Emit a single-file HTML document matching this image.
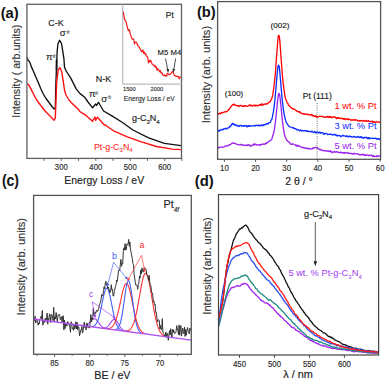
<!DOCTYPE html>
<html><head><meta charset="utf-8"><style>
html,body{margin:0;padding:0;background:#fff;}
svg{display:block;}
text{font-family:"Liberation Sans", sans-serif;}
</style></head><body>
<svg width="386" height="381" viewBox="0 0 386 381">
<rect width="386" height="381" fill="#fff"/>
<path d="M27.40,57.40 L27.80,60.00 L29.20,61.20 L30.30,63.50 L31.30,66.60 L33.50,71.50 L35.50,76.30 L38.50,83.00 L40.70,88.50 L43.00,93.50 L46.00,98.50 L49.00,102.50 L52.00,106.50 L54.10,109.00 L55.30,108.00 L55.90,82.00 L56.40,70.00 L56.80,60.00 L57.20,50.70 L58.00,43.50 L59.60,40.30 L61.50,43.50 L62.70,50.70 L63.90,58.60 L64.50,67.00 L66.10,71.00 L70.80,78.10 L76.30,89.10 L80.00,93.60 L84.80,97.30 L88.00,102.00 L92.60,107.80 L94.00,106.00 L95.70,103.90 L96.50,105.50 L98.60,102.30 L100.00,105.00 L103.60,111.00 L111.50,115.70 L122.50,122.50 L132.90,130.00 L148.60,137.80 L164.40,143.30 L181.00,145.70" fill="none" stroke="#111" stroke-width="1.35" stroke-linejoin="round" />
<line x1="56.6" y1="59.5" x2="56.6" y2="70.5" stroke="#111" stroke-width="1.8"/>
<path d="M27.20,83.70 L28.50,84.60 L29.50,86.20 L31.30,89.60 L33.50,94.00 L36.00,98.90 L40.00,104.50 L45.50,111.50 L50.00,116.00 L54.10,120.20 L55.30,118.00 L56.70,82.00 L58.20,70.20 L59.80,67.50 L61.80,71.80 L63.00,79.70 L64.50,90.00 L66.00,95.00 L69.00,100.00 L72.20,103.60 L78.00,109.00 L80.00,111.70 L86.30,115.70 L92.60,121.20 L95.00,117.00 L95.70,120.40 L97.30,117.20 L99.00,119.00 L103.60,124.30 L106.00,125.50 L114.20,131.20 L126.70,136.70 L140.70,141.70 L156.50,146.50 L172.20,149.10 L181.00,149.60" fill="none" stroke="#ff1010" stroke-width="1.4" stroke-linejoin="round" />
<rect x="26.9" y="4.3" width="154.6" height="154.1" fill="none" stroke="#606060" stroke-width="1.3"/>
<line x1="44.065" y1="158.4" x2="44.065" y2="160.9" stroke="#666" stroke-width="1"/>
<line x1="61.3" y1="158.4" x2="61.3" y2="160.9" stroke="#666" stroke-width="1"/>
<line x1="78.535" y1="158.4" x2="78.535" y2="160.9" stroke="#666" stroke-width="1"/>
<line x1="95.77" y1="158.4" x2="95.77" y2="160.9" stroke="#666" stroke-width="1"/>
<line x1="113.005" y1="158.4" x2="113.005" y2="160.9" stroke="#666" stroke-width="1"/>
<line x1="130.24" y1="158.4" x2="130.24" y2="160.9" stroke="#666" stroke-width="1"/>
<line x1="147.475" y1="158.4" x2="147.475" y2="160.9" stroke="#666" stroke-width="1"/>
<line x1="164.70999999999998" y1="158.4" x2="164.70999999999998" y2="160.9" stroke="#666" stroke-width="1"/>
<line x1="181.945" y1="158.4" x2="181.945" y2="160.9" stroke="#666" stroke-width="1"/>
<text transform="translate(61.3,170.2) scale(0.92,1)" font-size="8.4" fill="#2a2a2a" text-anchor="middle"  stroke="#2a2a2a" stroke-width="0.15">300</text>
<text transform="translate(95.77,170.2) scale(0.92,1)" font-size="8.4" fill="#2a2a2a" text-anchor="middle"  stroke="#2a2a2a" stroke-width="0.15">400</text>
<text transform="translate(130.24,170.2) scale(0.92,1)" font-size="8.4" fill="#2a2a2a" text-anchor="middle"  stroke="#2a2a2a" stroke-width="0.15">500</text>
<text transform="translate(164.71,170.2) scale(0.92,1)" font-size="8.4" fill="#2a2a2a" text-anchor="middle"  stroke="#2a2a2a" stroke-width="0.15">600</text>
<text x="104.2" y="183.7" font-size="10.5" fill="#222" text-anchor="middle"  stroke="#222" stroke-width="0.15">Energy Loss / eV</text>
<text transform="translate(20,71.2) rotate(-90)" x="0" y="0" font-size="10.6" fill="#333" text-anchor="middle" stroke="#333" stroke-width="0.15">Intensity ( arb.units)</text>
<text transform="translate(0.7,18.0) scale(0.97,1)" font-size="15.2" fill="#111" font-weight="bold">(a)</text>
<text x="56.0" y="26.3" font-size="8.9" fill="#222" text-anchor="middle"  stroke="#222" stroke-width="0.15">C-K</text>
<text x="59.8" y="35.7" font-size="9.5" fill="#222" text-anchor="start"  stroke="#222" stroke-width="0.15">σ</text>
<text x="66.0" y="38.3" font-size="10" fill="#8f8f8f" text-anchor="start" font-weight="bold">*</text>
<text x="46.0" y="60.2" font-size="9.5" fill="#222" text-anchor="start"  stroke="#222" stroke-width="0.15">π</text>
<text x="51.9" y="62.3" font-size="10" fill="#8f8f8f" text-anchor="start" font-weight="bold">*</text>
<text x="103.4" y="82.1" font-size="9.0" fill="#222" text-anchor="middle"  stroke="#222" stroke-width="0.15">N-K</text>
<text x="88.9" y="96.8" font-size="9.5" fill="#222" text-anchor="start"  stroke="#222" stroke-width="0.15">π</text>
<text x="94.6" y="99.3" font-size="10" fill="#8f8f8f" text-anchor="start" font-weight="bold">*</text>
<text x="101.2" y="101.6" font-size="9.5" fill="#222" text-anchor="start"  stroke="#222" stroke-width="0.15">σ</text>
<text x="107.4" y="103.4" font-size="10" fill="#8f8f8f" text-anchor="start" font-weight="bold">*</text>
<text x="132.0" y="121.3" font-size="9.0" fill="#222" stroke="#222" stroke-width="0.15">g-C<tspan font-size="6" dy="2.4">3</tspan><tspan dy="-2.4">N</tspan><tspan font-size="6" dy="2.4">4</tspan></text>
<text x="93.9" y="149.7" font-size="8.9" fill="#ff1010">Pt-g-C<tspan font-size="6" dy="2.4">3</tspan><tspan dy="-2.4">N</tspan><tspan font-size="6" dy="2.4">4</tspan></text>
<line x1="122.7" y1="4.3" x2="122.7" y2="84.1" stroke="#bbb" stroke-width="1.2"/>
<line x1="122.7" y1="84.1" x2="181.5" y2="84.1" stroke="#bbb" stroke-width="1.2"/>
<path d="M123.30,11.73 L124.00,16.16 L124.70,19.88 L125.40,20.57 L126.10,21.55 L126.80,24.89 L127.50,27.73 L128.20,30.59 L128.90,29.66 L129.60,30.50 L130.30,34.23 L131.00,35.87 L131.70,38.33 L132.40,39.09 L133.10,38.87 L133.80,39.55 L134.50,44.03 L135.20,42.21 L135.90,42.01 L136.60,42.31 L137.30,44.61 L138.00,45.89 L138.70,46.29 L139.40,47.41 L140.10,48.74 L140.80,50.21 L141.50,51.70 L142.20,51.64 L142.90,49.93 L143.60,53.29 L144.30,52.12 L145.00,54.09 L145.70,53.63 L146.40,56.00 L147.10,56.23 L147.80,58.17 L148.50,62.95 L149.20,60.59 L149.90,61.88 L150.60,60.24 L151.30,61.85 L152.00,64.00 L152.70,64.23 L153.40,65.42 L154.10,65.82 L154.80,65.07 L155.50,67.32 L156.20,66.62 L156.90,70.21 L157.60,68.57 L158.30,70.16 L159.00,70.16 L159.70,71.79 L160.40,70.74 L161.10,72.95 L161.80,72.53 L162.50,74.74 L163.20,75.33 L163.90,75.72 L164.60,74.76 L165.30,76.06 L166.00,75.71 L166.70,76.15 L167.40,73.05 L168.10,73.87 L168.80,74.53 L169.50,74.60 L170.20,74.13 L170.90,73.75 L171.60,72.48 L172.30,71.47 L173.00,71.75 L173.70,73.60 L174.40,75.50 L175.10,75.67 L175.80,76.22 L176.50,76.30 L177.20,76.50 L177.90,76.21 L178.60,77.15 L179.30,78.83 L180.00,76.97 L180.70,76.50" fill="none" stroke="#f01818" stroke-width="1.2" stroke-linejoin="round" />
<text x="129.3" y="90.9" font-size="5.7" fill="#333" text-anchor="middle"  stroke="#333" stroke-width="0.15">1500</text>
<text x="156.9" y="90.9" font-size="5.7" fill="#333" text-anchor="middle"  stroke="#333" stroke-width="0.15">2000</text>
<text x="149.3" y="101.3" font-size="6.7" fill="#333" text-anchor="middle"  stroke="#333" stroke-width="0.15">Energy Loss / eV</text>
<text x="165.8" y="17.7" font-size="8.4" fill="#222" text-anchor="start"  stroke="#222" stroke-width="0.15">Pt</text>
<text x="157.6" y="55" font-size="7.7" fill="#222" text-anchor="start"  stroke="#222" stroke-width="0.15">M5</text>
<text x="170.5" y="55" font-size="7.7" fill="#222" text-anchor="start"  stroke="#222" stroke-width="0.15">M4</text>
<line x1="165.5" y1="58.4" x2="167.8" y2="70" stroke="#222" stroke-width="0.8"/>
<line x1="175.7" y1="58.4" x2="173.7" y2="70" stroke="#222" stroke-width="0.8"/>
<path d="M166.3,69.5 L168.3,72.7 L169.2,69 Z" fill="#222"/>
<path d="M172.3,69 L173.5,72.4 L175.1,69.3 Z" fill="#222"/>
<path d="M217.90,114.20 L218.40,114.30 L218.90,113.48 L219.40,113.17 L219.90,113.43 L220.40,113.84 L220.90,113.36 L221.40,112.60 L221.90,112.47 L222.40,112.58 L222.90,112.84 L223.40,112.45 L223.90,112.13 L224.40,112.00 L224.90,112.00 L225.40,111.57 L225.90,111.63 L226.40,111.62 L226.90,111.76 L227.40,110.85 L227.90,110.68 L228.40,109.62 L228.90,109.73 L229.40,108.93 L229.90,107.93 L230.40,107.33 L230.90,106.95 L231.40,105.87 L231.90,105.54 L232.40,105.06 L232.90,104.60 L233.40,104.83 L233.90,104.05 L234.40,104.61 L234.90,104.54 L235.40,105.26 L235.90,105.27 L236.40,105.49 L236.90,105.78 L237.40,105.64 L237.90,105.86 L238.40,105.63 L238.90,106.56 L239.40,105.87 L239.90,105.91 L240.40,105.31 L240.90,105.30 L241.40,105.53 L241.90,106.14 L242.40,106.27 L242.90,106.13 L243.40,105.79 L243.90,106.59 L244.40,105.77 L244.90,105.67 L245.40,106.12 L245.90,105.70 L246.40,106.06 L246.90,106.38 L247.40,106.06 L247.90,106.14 L248.40,106.00 L248.90,105.70 L249.40,104.75 L249.90,105.21 L250.40,105.70 L250.90,105.20 L251.40,105.45 L251.90,105.74 L252.40,106.16 L252.90,105.28 L253.40,105.36 L253.90,105.61 L254.40,105.73 L254.90,105.06 L255.40,106.01 L255.90,105.24 L256.40,105.71 L256.90,105.32 L257.40,105.41 L257.90,105.83 L258.40,105.54 L258.90,105.23 L259.40,104.73 L259.90,104.70 L260.40,104.38 L260.90,105.46 L261.40,104.38 L261.90,103.74 L262.40,105.02 L262.90,105.08 L263.40,104.45 L263.90,104.66 L264.40,104.04 L264.90,103.91 L265.40,104.16 L265.90,104.06 L266.40,103.63 L266.90,104.13 L267.40,103.76 L267.90,103.30 L268.40,102.53 L268.90,102.57 L269.40,102.09 L269.90,101.66 L270.40,101.34 L270.90,100.09 L271.40,99.21 L271.90,98.02 L272.40,96.09 L272.90,94.43 L273.40,90.26 L273.90,87.05 L274.40,82.47 L274.90,77.83 L275.40,73.11 L275.90,65.52 L276.40,58.98 L276.90,52.38 L277.40,45.50 L277.90,40.02 L278.40,35.45 L278.90,35.31 L279.40,37.01 L279.90,41.63 L280.40,48.60 L280.90,55.74 L281.40,62.39 L281.90,68.97 L282.40,75.27 L282.90,80.81 L283.40,85.48 L283.90,89.16 L284.40,92.05 L284.90,96.04 L285.40,98.14 L285.90,99.43 L286.40,100.64 L286.90,102.05 L287.40,103.11 L287.90,103.28 L288.40,105.07 L288.90,105.54 L289.40,105.77 L289.90,106.42 L290.40,106.85 L290.90,107.55 L291.40,107.68 L291.90,108.38 L292.40,108.91 L292.90,108.64 L293.40,108.79 L293.90,108.92 L294.40,109.42 L294.90,109.58 L295.40,110.11 L295.90,110.55 L296.40,110.95 L296.90,110.66 L297.40,111.61 L297.90,111.53 L298.40,111.80 L298.90,111.93 L299.40,111.65 L299.90,112.59 L300.40,112.17 L300.90,113.19 L301.40,113.11 L301.90,113.72 L302.40,113.62 L302.90,113.71 L303.40,114.07 L303.90,113.73 L304.40,114.30 L304.90,113.92 L305.40,114.07 L305.90,113.86 L306.40,114.34 L306.90,114.56 L307.40,114.28 L307.90,114.04 L308.40,114.52 L308.90,114.86 L309.40,114.81 L309.90,114.60 L310.40,114.73 L310.90,115.00 L311.40,114.31 L311.90,114.97 L312.40,115.89 L312.90,115.21 L313.40,115.53 L313.90,116.34 L314.40,116.24 L314.90,116.38 L315.40,116.12 L315.90,115.73 L316.40,117.21 L316.90,116.68 L317.40,116.58 L317.90,117.07 L318.40,116.90 L318.90,116.63 L319.40,116.19 L319.90,116.45 L320.40,116.53 L320.90,116.38 L321.40,116.31 L321.90,116.27 L322.40,116.59 L322.90,116.51 L323.40,116.87 L323.90,117.18 L324.40,117.01 L324.90,116.90 L325.40,117.44 L325.90,117.25 L326.40,116.49 L326.90,116.62 L327.40,116.99 L327.90,116.71 L328.40,117.25 L328.90,116.50 L329.40,116.31 L329.90,117.34 L330.40,117.45 L330.90,116.75 L331.40,117.24 L331.90,117.83 L332.40,117.13 L332.90,117.01 L333.40,117.02 L333.90,117.15 L334.40,116.96 L334.90,117.40 L335.40,117.20 L335.90,117.73 L336.40,118.64 L336.90,117.72 L337.40,118.27 L337.90,118.51 L338.40,117.38 L338.90,118.05 L339.40,118.19 L339.90,118.15 L340.40,118.58 L340.90,118.28 L341.40,118.54 L341.90,118.37 L342.40,118.47 L342.90,118.31 L343.40,119.39 L343.90,118.84 L344.40,118.40 L344.90,119.43 L345.40,119.55 L345.90,119.00 L346.40,118.77 L346.90,118.74 L347.40,119.47 L347.90,119.11 L348.40,118.95 L348.90,119.51 L349.40,119.27 L349.90,119.34 L350.40,120.10 L350.90,119.92 L351.40,120.06 L351.90,119.84 L352.40,120.14 L352.90,119.73 L353.40,120.09 L353.90,120.23 L354.40,119.78 L354.90,119.43 L355.40,120.04 L355.90,119.97 L356.40,120.25 L356.90,119.92 L357.40,120.30 L357.90,120.56 L358.40,121.15 L358.90,121.10 L359.40,120.64 L359.90,120.96 L360.40,120.34 L360.90,120.89 L361.40,120.67 L361.90,121.09 L362.40,120.86 L362.90,120.66 L363.40,120.49 L363.90,121.19 L364.40,120.95 L364.90,121.17 L365.40,121.17 L365.90,120.33 L366.40,121.13 L366.90,120.98 L367.40,121.26 L367.90,121.39 L368.40,120.66 L368.90,121.07 L369.40,121.28 L369.90,121.52 L370.40,121.81 L370.90,121.33 L371.40,121.44 L371.90,121.80 L372.40,121.05 L372.90,122.23 L373.40,121.53 L373.90,122.22 L374.40,121.99 L374.90,122.59 L375.40,122.46 L375.90,122.09 L376.40,121.48 L376.90,122.03 L377.40,122.25 L377.90,122.41 L378.40,121.85 L378.90,121.93 L379.40,122.01 L379.90,122.43 L380.40,122.16" fill="none" stroke="#ff0000" stroke-width="1.3" stroke-linejoin="round" />
<path d="M217.90,130.62 L218.40,130.34 L218.90,131.52 L219.40,130.61 L219.90,130.24 L220.40,130.19 L220.90,129.76 L221.40,129.52 L221.90,129.87 L222.40,129.50 L222.90,129.82 L223.40,129.44 L223.90,128.71 L224.40,128.67 L224.90,128.76 L225.40,128.29 L225.90,128.83 L226.40,128.79 L226.90,128.99 L227.40,128.12 L227.90,127.93 L228.40,127.95 L228.90,127.78 L229.40,126.68 L229.90,126.98 L230.40,125.83 L230.90,125.86 L231.40,124.90 L231.90,124.26 L232.40,123.41 L232.90,123.39 L233.40,124.62 L233.90,123.93 L234.40,124.78 L234.90,125.06 L235.40,124.67 L235.90,125.33 L236.40,125.75 L236.90,125.39 L237.40,125.42 L237.90,126.05 L238.40,125.90 L238.90,126.54 L239.40,126.05 L239.90,125.39 L240.40,125.67 L240.90,125.32 L241.40,125.98 L241.90,126.11 L242.40,125.74 L242.90,125.50 L243.40,126.12 L243.90,125.79 L244.40,126.33 L244.90,125.63 L245.40,125.77 L245.90,125.70 L246.40,125.52 L246.90,126.88 L247.40,126.77 L247.90,125.88 L248.40,126.23 L248.90,125.33 L249.40,126.27 L249.90,126.39 L250.40,125.88 L250.90,125.76 L251.40,125.95 L251.90,126.06 L252.40,125.77 L252.90,125.52 L253.40,125.67 L253.90,125.63 L254.40,126.06 L254.90,125.87 L255.40,125.88 L255.90,125.16 L256.40,125.47 L256.90,125.52 L257.40,125.46 L257.90,125.58 L258.40,125.51 L258.90,125.02 L259.40,125.81 L259.90,125.93 L260.40,125.40 L260.90,125.68 L261.40,125.13 L261.90,124.86 L262.40,125.16 L262.90,125.82 L263.40,125.26 L263.90,124.53 L264.40,124.94 L264.90,124.63 L265.40,124.40 L265.90,124.64 L266.40,123.78 L266.90,123.45 L267.40,123.34 L267.90,124.08 L268.40,123.64 L268.90,123.03 L269.40,122.56 L269.90,122.55 L270.40,122.19 L270.90,120.67 L271.40,119.80 L271.90,119.22 L272.40,116.95 L272.90,114.28 L273.40,111.69 L273.90,108.32 L274.40,104.58 L274.90,99.96 L275.40,94.49 L275.90,88.91 L276.40,83.17 L276.90,76.82 L277.40,71.47 L277.90,66.75 L278.40,65.13 L278.90,65.67 L279.40,67.74 L279.90,73.03 L280.40,78.71 L280.90,84.78 L281.40,90.64 L281.90,96.39 L282.40,101.76 L282.90,105.45 L283.40,109.97 L283.90,112.87 L284.40,115.16 L284.90,117.64 L285.40,119.81 L285.90,121.13 L286.40,122.47 L286.90,123.26 L287.40,123.98 L287.90,125.22 L288.40,125.23 L288.90,126.36 L289.40,126.72 L289.90,126.79 L290.40,127.01 L290.90,127.22 L291.40,127.53 L291.90,127.75 L292.40,127.92 L292.90,127.44 L293.40,127.42 L293.90,128.46 L294.40,128.44 L294.90,128.59 L295.40,128.89 L295.90,128.73 L296.40,129.79 L296.90,129.56 L297.40,129.56 L297.90,129.35 L298.40,130.13 L298.90,130.34 L299.40,130.77 L299.90,130.74 L300.40,130.17 L300.90,129.95 L301.40,130.93 L301.90,130.43 L302.40,130.60 L302.90,130.67 L303.40,130.98 L303.90,131.11 L304.40,130.61 L304.90,130.71 L305.40,130.38 L305.90,131.20 L306.40,131.16 L306.90,130.64 L307.40,131.58 L307.90,131.45 L308.40,131.10 L308.90,131.29 L309.40,131.32 L309.90,131.62 L310.40,131.77 L310.90,131.56 L311.40,131.93 L311.90,130.95 L312.40,131.63 L312.90,132.17 L313.40,132.43 L313.90,132.48 L314.40,131.86 L314.90,131.55 L315.40,132.03 L315.90,133.12 L316.40,132.65 L316.90,132.24 L317.40,131.87 L317.90,132.52 L318.40,132.49 L318.90,132.88 L319.40,132.91 L319.90,132.05 L320.40,132.74 L320.90,133.26 L321.40,132.92 L321.90,132.69 L322.40,132.72 L322.90,132.72 L323.40,134.05 L323.90,134.09 L324.40,133.42 L324.90,134.06 L325.40,133.36 L325.90,133.47 L326.40,133.47 L326.90,133.73 L327.40,134.14 L327.90,134.77 L328.40,134.49 L328.90,134.18 L329.40,134.27 L329.90,134.21 L330.40,134.46 L330.90,134.12 L331.40,134.51 L331.90,134.72 L332.40,135.00 L332.90,134.47 L333.40,134.87 L333.90,134.95 L334.40,134.63 L334.90,134.20 L335.40,134.68 L335.90,135.35 L336.40,135.12 L336.90,136.05 L337.40,135.67 L337.90,135.19 L338.40,135.37 L338.90,135.66 L339.40,135.78 L339.90,135.57 L340.40,135.82 L340.90,136.80 L341.40,136.30 L341.90,135.96 L342.40,135.70 L342.90,135.21 L343.40,135.86 L343.90,135.81 L344.40,135.97 L344.90,135.85 L345.40,136.34 L345.90,136.58 L346.40,136.03 L346.90,135.71 L347.40,136.29 L347.90,136.82 L348.40,136.62 L348.90,136.64 L349.40,136.00 L349.90,136.21 L350.40,136.70 L350.90,136.75 L351.40,136.66 L351.90,136.89 L352.40,137.07 L352.90,136.87 L353.40,136.57 L353.90,136.30 L354.40,136.86 L354.90,136.87 L355.40,136.91 L355.90,137.41 L356.40,136.91 L356.90,136.99 L357.40,137.37 L357.90,136.93 L358.40,136.42 L358.90,136.93 L359.40,137.55 L359.90,137.21 L360.40,137.30 L360.90,136.78 L361.40,137.80 L361.90,136.99 L362.40,137.25 L362.90,137.51 L363.40,138.35 L363.90,137.90 L364.40,137.55 L364.90,137.24 L365.40,137.63 L365.90,137.42 L366.40,137.63 L366.90,137.95 L367.40,138.46 L367.90,137.77 L368.40,138.55 L368.90,137.56 L369.40,138.78 L369.90,138.14 L370.40,138.14 L370.90,138.14 L371.40,138.43 L371.90,138.42 L372.40,138.35 L372.90,138.24 L373.40,138.31 L373.90,138.58 L374.40,138.45 L374.90,138.41 L375.40,138.16 L375.90,138.67 L376.40,138.98 L376.90,138.53 L377.40,139.20 L377.90,139.00 L378.40,139.04 L378.90,138.44 L379.40,139.19 L379.90,139.60 L380.40,139.96" fill="none" stroke="#0a2aff" stroke-width="1.3" stroke-linejoin="round" />
<path d="M217.90,148.61 L218.40,147.52 L218.90,147.73 L219.40,147.49 L219.90,147.15 L220.40,147.11 L220.90,147.05 L221.40,147.11 L221.90,147.22 L222.40,147.38 L222.90,147.05 L223.40,147.22 L223.90,146.95 L224.40,146.69 L224.90,146.45 L225.40,146.06 L225.90,145.70 L226.40,146.07 L226.90,145.99 L227.40,146.01 L227.90,145.89 L228.40,145.18 L228.90,145.10 L229.40,144.70 L229.90,145.11 L230.40,144.55 L230.90,144.28 L231.40,143.63 L231.90,143.12 L232.40,143.02 L232.90,143.01 L233.40,143.38 L233.90,142.88 L234.40,143.53 L234.90,143.35 L235.40,143.54 L235.90,143.76 L236.40,143.87 L236.90,144.32 L237.40,144.66 L237.90,144.59 L238.40,144.32 L238.90,144.65 L239.40,144.76 L239.90,145.00 L240.40,144.89 L240.90,144.27 L241.40,144.49 L241.90,144.72 L242.40,145.27 L242.90,145.07 L243.40,145.44 L243.90,145.35 L244.40,144.87 L244.90,145.25 L245.40,145.56 L245.90,145.62 L246.40,145.02 L246.90,145.62 L247.40,145.35 L247.90,144.73 L248.40,145.11 L248.90,144.66 L249.40,144.78 L249.90,145.71 L250.40,146.22 L250.90,145.80 L251.40,145.46 L251.90,145.86 L252.40,145.37 L252.90,144.77 L253.40,144.11 L253.90,145.10 L254.40,144.19 L254.90,143.78 L255.40,144.45 L255.90,144.82 L256.40,144.55 L256.90,145.14 L257.40,144.85 L257.90,144.87 L258.40,144.94 L258.90,144.57 L259.40,144.75 L259.90,145.50 L260.40,144.48 L260.90,144.63 L261.40,144.76 L261.90,144.38 L262.40,144.44 L262.90,143.83 L263.40,144.02 L263.90,144.08 L264.40,144.32 L264.90,144.17 L265.40,143.45 L265.90,142.96 L266.40,143.72 L266.90,143.37 L267.40,142.12 L267.90,142.22 L268.40,141.81 L268.90,141.58 L269.40,140.84 L269.90,140.79 L270.40,140.42 L270.90,140.01 L271.40,139.79 L271.90,138.71 L272.40,137.01 L272.90,135.23 L273.40,133.72 L273.90,132.06 L274.40,129.31 L274.90,125.47 L275.40,122.14 L275.90,117.66 L276.40,112.53 L276.90,107.82 L277.40,102.70 L277.90,97.79 L278.40,94.55 L278.90,93.24 L279.40,94.39 L279.90,96.42 L280.40,100.91 L280.90,105.79 L281.40,110.83 L281.90,115.30 L282.40,120.62 L282.90,124.85 L283.40,128.55 L283.90,131.21 L284.40,134.03 L284.90,135.83 L285.40,137.64 L285.90,138.55 L286.40,139.73 L286.90,140.39 L287.40,140.75 L287.90,141.43 L288.40,141.64 L288.90,141.94 L289.40,142.48 L289.90,142.72 L290.40,143.91 L290.90,144.23 L291.40,144.21 L291.90,144.27 L292.40,143.84 L292.90,144.30 L293.40,143.93 L293.90,144.27 L294.40,144.52 L294.90,144.74 L295.40,145.34 L295.90,144.99 L296.40,146.17 L296.90,145.49 L297.40,145.95 L297.90,145.29 L298.40,146.15 L298.90,145.67 L299.40,146.19 L299.90,146.32 L300.40,146.80 L300.90,146.98 L301.40,147.09 L301.90,147.08 L302.40,147.98 L302.90,147.45 L303.40,147.67 L303.90,147.69 L304.40,148.06 L304.90,147.87 L305.40,148.01 L305.90,148.39 L306.40,148.10 L306.90,148.43 L307.40,148.14 L307.90,148.81 L308.40,148.41 L308.90,149.02 L309.40,148.71 L309.90,148.44 L310.40,148.79 L310.90,148.95 L311.40,149.13 L311.90,149.13 L312.40,148.81 L312.90,147.86 L313.40,148.27 L313.90,147.85 L314.40,147.80 L314.90,147.95 L315.40,147.13 L315.90,147.55 L316.40,147.86 L316.90,147.48 L317.40,147.46 L317.90,148.38 L318.40,148.46 L318.90,149.10 L319.40,149.62 L319.90,149.07 L320.40,149.93 L320.90,149.77 L321.40,150.07 L321.90,150.63 L322.40,150.15 L322.90,150.27 L323.40,150.43 L323.90,150.79 L324.40,150.91 L324.90,151.02 L325.40,150.75 L325.90,150.66 L326.40,151.10 L326.90,150.78 L327.40,150.78 L327.90,151.36 L328.40,151.00 L328.90,150.93 L329.40,151.68 L329.90,151.46 L330.40,150.69 L330.90,151.11 L331.40,152.19 L331.90,152.77 L332.40,151.82 L332.90,152.03 L333.40,152.13 L333.90,152.05 L334.40,151.32 L334.90,152.21 L335.40,152.17 L335.90,152.02 L336.40,151.53 L336.90,151.82 L337.40,152.10 L337.90,152.15 L338.40,152.36 L338.90,152.22 L339.40,152.72 L339.90,152.73 L340.40,152.14 L340.90,152.25 L341.40,152.67 L341.90,152.45 L342.40,153.13 L342.90,152.62 L343.40,152.83 L343.90,153.04 L344.40,152.50 L344.90,153.28 L345.40,152.95 L345.90,152.75 L346.40,152.75 L346.90,152.43 L347.40,152.52 L347.90,153.59 L348.40,153.26 L348.90,153.18 L349.40,153.37 L349.90,153.58 L350.40,153.18 L350.90,153.34 L351.40,153.58 L351.90,153.92 L352.40,153.76 L352.90,154.26 L353.40,153.74 L353.90,153.63 L354.40,153.28 L354.90,153.73 L355.40,154.11 L355.90,153.92 L356.40,153.95 L356.90,153.72 L357.40,153.85 L357.90,153.98 L358.40,154.17 L358.90,154.67 L359.40,154.61 L359.90,154.79 L360.40,154.96 L360.90,154.46 L361.40,155.04 L361.90,154.75 L362.40,154.26 L362.90,154.45 L363.40,154.72 L363.90,154.31 L364.40,155.63 L364.90,155.11 L365.40,155.37 L365.90,154.74 L366.40,155.12 L366.90,155.29 L367.40,155.01 L367.90,155.36 L368.40,155.39 L368.90,155.57 L369.40,155.09 L369.90,155.65 L370.40,155.52 L370.90,155.34 L371.40,154.88 L371.90,155.54 L372.40,155.65 L372.90,156.69 L373.40,155.68 L373.90,156.47 L374.40,156.59 L374.90,156.37 L375.40,156.31 L375.90,156.43 L376.40,155.80 L376.90,156.74 L377.40,156.36 L377.90,156.18 L378.40,156.45 L378.90,155.59 L379.40,155.96 L379.90,156.13 L380.40,156.07" fill="none" stroke="#9a22ee" stroke-width="1.3" stroke-linejoin="round" />
<rect x="217.6" y="1.6" width="163.00000000000003" height="157.70000000000002" fill="none" stroke="#555" stroke-width="1.3"/>
<line x1="224.4" y1="159.3" x2="224.4" y2="161.8" stroke="#555" stroke-width="1"/>
<text transform="translate(224.4,171.2) scale(0.92,1)" font-size="8.5" fill="#2a2a2a" text-anchor="middle"  stroke="#2a2a2a" stroke-width="0.15">10</text>
<line x1="255.55" y1="159.3" x2="255.55" y2="161.8" stroke="#555" stroke-width="1"/>
<text transform="translate(255.55,171.2) scale(0.92,1)" font-size="8.5" fill="#2a2a2a" text-anchor="middle"  stroke="#2a2a2a" stroke-width="0.15">20</text>
<line x1="286.7" y1="159.3" x2="286.7" y2="161.8" stroke="#555" stroke-width="1"/>
<text transform="translate(286.7,171.2) scale(0.92,1)" font-size="8.5" fill="#2a2a2a" text-anchor="middle"  stroke="#2a2a2a" stroke-width="0.15">30</text>
<line x1="317.85" y1="159.3" x2="317.85" y2="161.8" stroke="#555" stroke-width="1"/>
<text transform="translate(317.85,171.2) scale(0.92,1)" font-size="8.5" fill="#2a2a2a" text-anchor="middle"  stroke="#2a2a2a" stroke-width="0.15">40</text>
<line x1="349.0" y1="159.3" x2="349.0" y2="161.8" stroke="#555" stroke-width="1"/>
<text transform="translate(349.0,171.2) scale(0.92,1)" font-size="8.5" fill="#2a2a2a" text-anchor="middle"  stroke="#2a2a2a" stroke-width="0.15">50</text>
<line x1="380.15" y1="159.3" x2="380.15" y2="161.8" stroke="#555" stroke-width="1"/>
<text transform="translate(380.15,171.2) scale(0.92,1)" font-size="8.5" fill="#2a2a2a" text-anchor="middle"  stroke="#2a2a2a" stroke-width="0.15">60</text>
<line x1="317.1" y1="103" x2="317.1" y2="159.3" stroke="#555" stroke-width="0.8" stroke-dasharray="1,1.2"/>
<text x="299" y="184.9" font-size="10.5" fill="#222" text-anchor="middle"  stroke="#222" stroke-width="0.15">2 θ / °</text>
<text transform="translate(209.8,74.6) rotate(-90)" x="0" y="0" font-size="11.1" fill="#333" text-anchor="middle" stroke="#333" stroke-width="0.15">Intensity (arb. units)</text>
<text transform="translate(196.9,17.1) scale(0.97,1)" font-size="15.2" fill="#111" font-weight="bold">(b)</text>
<text x="279.9" y="27.6" font-size="8.1" fill="#1a1a1a" text-anchor="middle"  stroke="#1a1a1a" stroke-width="0.15">(002)</text>
<text x="234.0" y="95.8" font-size="7.9" fill="#1a1a1a" text-anchor="middle"  stroke="#1a1a1a" stroke-width="0.15">(100)</text>
<text x="317.3" y="98.8" font-size="8.5" fill="#1a1a1a" text-anchor="middle"  stroke="#1a1a1a" stroke-width="0.15">Pt (111)</text>
<text x="355.5" y="108.7" font-size="9.4" fill="#ff0000" text-anchor="middle" >1 wt. % Pt</text>
<text x="355.5" y="129.2" font-size="9.4" fill="#0a2aff" text-anchor="middle" >3 wt. % Pt</text>
<text x="355.5" y="148.9" font-size="9.4" fill="#9a22ee" text-anchor="middle" >5 wt. % Pt</text>
<path d="M81.70,325.37 L82.20,325.41 L82.70,325.45 L83.20,325.47 L83.70,325.47 L84.20,325.45 L84.70,325.40 L85.20,325.33 L85.70,325.21 L86.20,325.05 L86.70,324.83 L87.20,324.57 L87.70,324.24 L88.20,323.86 L88.70,323.42 L89.20,322.93 L89.70,322.40 L90.20,321.84 L90.70,321.27 L91.20,320.71 L91.70,320.18 L92.20,319.70 L92.70,319.30 L93.20,318.99 L93.70,318.79 L94.20,318.71 L94.70,318.77 L95.20,318.95 L95.70,319.26 L96.20,319.68 L96.70,320.20 L97.20,320.80 L97.70,321.46 L98.20,322.15 L98.70,322.85 L99.20,323.55 L99.70,324.22 L100.20,324.85 L100.70,325.43 L101.20,325.96 L101.70,326.43 L102.20,326.84 L102.70,327.20 L103.20,327.50 L103.70,327.76 L104.20,327.98 L104.70,328.17 L105.20,328.32 L105.70,328.46 L106.20,328.58 L106.70,328.68 L107.20,328.77" fill="none" stroke="#a040f0" stroke-width="1.1" stroke-linejoin="round" />
<path d="M101.70,328.03 L102.20,328.07 L102.70,328.09 L103.20,328.10 L103.70,328.08 L104.20,328.04 L104.70,327.97 L105.20,327.85 L105.70,327.69 L106.20,327.47 L106.70,327.19 L107.20,326.84 L107.70,326.42 L108.20,325.92 L108.70,325.36 L109.20,324.73 L109.70,324.05 L110.20,323.33 L110.70,322.61 L111.20,321.89 L111.70,321.21 L112.20,320.59 L112.70,320.07 L113.20,319.67 L113.70,319.40 L114.20,319.29 L114.70,319.34 L115.20,319.55 L115.70,319.92 L116.20,320.43 L116.70,321.07 L117.20,321.80 L117.70,322.60 L118.20,323.45 L118.70,324.31 L119.20,325.16 L119.70,325.98 L120.20,326.76 L120.70,327.47 L121.20,328.11 L121.70,328.68 L122.20,329.18 L122.70,329.61 L123.20,329.98 L123.70,330.28 L124.20,330.54 L124.70,330.76 L125.20,330.94 L125.70,331.09 L126.20,331.22 L126.70,331.33 L127.20,331.43" fill="none" stroke="#a040f0" stroke-width="1.1" stroke-linejoin="round" />
<path d="M91.38,326.47 L91.88,326.44 L92.38,326.39 L92.88,326.29 L93.38,326.14 L93.88,325.94 L94.38,325.66 L94.88,325.29 L95.38,324.82 L95.88,324.23 L96.38,323.50 L96.88,322.62 L97.38,321.57 L97.88,320.34 L98.38,318.93 L98.88,317.32 L99.38,315.52 L99.88,313.54 L100.38,311.39 L100.88,309.10 L101.38,306.70 L101.88,304.24 L102.38,301.75 L102.88,299.31 L103.38,296.96 L103.88,294.77 L104.38,292.80 L104.88,291.11 L105.38,289.74 L105.88,288.74 L106.38,288.15 L106.88,287.98 L107.38,288.25 L107.88,288.94 L108.38,290.04 L108.88,291.51 L109.38,293.32 L109.88,295.40 L110.38,297.71 L110.88,300.18 L111.38,302.75 L111.88,305.37 L112.38,307.97 L112.88,310.51 L113.38,312.94 L113.88,315.23 L114.38,317.36 L114.88,319.31 L115.38,321.07 L115.88,322.64 L116.38,324.01 L116.88,325.21 L117.38,326.23 L117.88,327.11 L118.38,327.84 L118.88,328.45 L119.38,328.96 L119.88,329.38 L120.38,329.73 L120.88,330.01 L121.38,330.25 L121.88,330.44 L122.38,330.60" fill="none" stroke="#4060f8" stroke-width="1.1" stroke-linejoin="round" />
<path d="M107.30,328.55 L107.80,328.53 L108.30,328.49 L108.80,328.42 L109.30,328.32 L109.80,328.17 L110.30,327.99 L110.80,327.74 L111.30,327.43 L111.80,327.05 L112.30,326.59 L112.80,326.03 L113.30,325.37 L113.80,324.60 L114.30,323.70 L114.80,322.67 L115.30,321.50 L115.80,320.19 L116.30,318.72 L116.80,317.11 L117.30,315.36 L117.80,313.46 L118.30,311.44 L118.80,309.31 L119.30,307.08 L119.80,304.78 L120.30,302.43 L120.80,300.07 L121.30,297.74 L121.80,295.46 L122.30,293.27 L122.80,291.22 L123.30,289.34 L123.80,287.66 L124.30,286.23 L124.80,285.06 L125.30,284.19 L125.80,283.63 L126.30,283.40 L126.80,283.50 L127.30,283.93 L127.80,284.69 L128.30,285.75 L128.80,287.11 L129.30,288.73 L129.80,290.58 L130.30,292.63 L130.80,294.85 L131.30,297.19 L131.80,299.62 L132.30,302.09 L132.80,304.58 L133.30,307.06 L133.80,309.48 L134.30,311.82 L134.80,314.07 L135.30,316.20 L135.80,318.20 L136.30,320.06 L136.80,321.78 L137.30,323.34 L137.80,324.76 L138.30,326.04 L138.80,327.17 L139.30,328.18 L139.80,329.06 L140.30,329.84 L140.80,330.51 L141.30,331.09 L141.80,331.59 L142.30,332.01 L142.80,332.38 L143.30,332.69 L143.80,332.96 L144.30,333.19 L144.80,333.39 L145.30,333.56" fill="none" stroke="#ff3030" stroke-width="1.1" stroke-linejoin="round" />
<path d="M115.06,329.57 L115.56,329.50 L116.06,329.37 L116.56,329.18 L117.06,328.89 L117.56,328.49 L118.06,327.95 L118.56,327.24 L119.06,326.33 L119.56,325.18 L120.06,323.77 L120.56,322.07 L121.06,320.05 L121.56,317.72 L122.06,315.07 L122.56,312.12 L123.06,308.90 L123.56,305.47 L124.06,301.91 L124.56,298.30 L125.06,294.74 L125.56,291.36 L126.06,288.26 L126.56,285.57 L127.06,283.39 L127.56,281.81 L128.06,280.89 L128.56,280.68 L129.06,281.20 L129.56,282.41 L130.06,284.28 L130.56,286.72 L131.06,289.66 L131.56,292.97 L132.06,296.54 L132.56,300.25 L133.06,303.99 L133.56,307.66 L134.06,311.18 L134.56,314.47 L135.06,317.48 L135.56,320.20 L136.06,322.59 L136.56,324.66 L137.06,326.42 L137.56,327.90 L138.06,329.12 L138.56,330.12 L139.06,330.92 L139.56,331.55 L140.06,332.06 L140.56,332.45 L141.06,332.76 L141.56,333.01" fill="none" stroke="#4060f8" stroke-width="1.1" stroke-linejoin="round" />
<path d="M125.86,330.95 L126.36,330.91 L126.86,330.85 L127.36,330.75 L127.86,330.62 L128.36,330.43 L128.86,330.20 L129.36,329.90 L129.86,329.53 L130.36,329.07 L130.86,328.52 L131.36,327.86 L131.86,327.08 L132.36,326.18 L132.86,325.13 L133.36,323.93 L133.86,322.57 L134.36,321.04 L134.86,319.33 L135.36,317.45 L135.86,315.40 L136.36,313.17 L136.86,310.78 L137.36,308.25 L137.86,305.59 L138.36,302.82 L138.86,299.97 L139.36,297.07 L139.86,294.17 L140.36,291.29 L140.86,288.49 L141.36,285.80 L141.86,283.26 L142.36,280.93 L142.86,278.84 L143.36,277.03 L143.86,275.54 L144.36,274.39 L144.86,273.61 L145.36,273.21 L145.86,273.21 L146.36,273.60 L146.86,274.38 L147.36,275.53 L147.86,277.03 L148.36,278.87 L148.86,280.99 L149.36,283.38 L149.86,285.98 L150.36,288.75 L150.86,291.65 L151.36,294.64 L151.86,297.67 L152.36,300.71 L152.86,303.71 L153.36,306.64 L153.86,309.48 L154.36,312.20 L154.86,314.77 L155.36,317.19 L155.86,319.44 L156.36,321.52 L156.86,323.42 L157.36,325.15 L157.86,326.70 L158.36,328.10 L158.86,329.33 L159.36,330.42 L159.86,331.38 L160.36,332.21 L160.86,332.93 L161.36,333.55 L161.86,334.09 L162.36,334.55 L162.86,334.94 L163.36,335.27 L163.86,335.56 L164.36,335.80 L164.86,336.01 L165.36,336.19" fill="none" stroke="#ff3030" stroke-width="1.1" stroke-linejoin="round" />
<path d="M33.90,321.54 L34.50,320.08 L35.10,316.14 L35.70,322.94 L36.30,320.89 L36.90,321.05 L37.50,320.44 L38.10,325.15 L38.70,322.94 L39.30,323.95 L39.90,318.81 L40.50,318.22 L41.10,316.27 L41.70,318.87 L42.30,310.48 L42.90,325.19 L43.50,320.11 L44.10,319.90 L44.70,322.53 L45.30,318.15 L45.90,319.96 L46.50,321.47 L47.10,313.18 L47.70,324.13 L48.30,318.40 L48.90,319.72 L49.50,313.78 L50.10,314.90 L50.70,322.51 L51.30,314.60 L51.90,314.72 L52.50,317.45 L53.10,320.48 L53.70,307.37 L54.30,320.81 L54.90,316.76 L55.50,319.00 L56.10,312.52 L56.70,317.16 L57.30,321.71 L57.90,315.93 L58.50,314.20 L59.10,314.95 L59.70,314.71 L60.30,319.67 L60.90,318.37 L61.50,316.75 L62.10,321.90 L62.70,316.20 L63.30,315.77 L63.90,329.88 L64.50,320.02 L65.10,328.52 L65.70,323.39 L66.30,323.41 L66.90,326.17 L67.50,321.63 L68.10,321.88 L68.70,324.25 L69.30,323.84 L69.90,327.84 L70.50,332.25 L71.10,321.73 L71.70,322.97 L72.30,328.76 L72.90,328.13 L73.50,330.41 L74.10,324.22 L74.70,329.02 L75.30,326.97 L75.90,321.74 L76.50,329.04 L77.10,322.29 L77.70,329.69 L78.30,326.46 L78.90,327.51 L79.50,335.71 L80.10,333.77 L80.70,330.17 L81.30,330.23 L81.90,326.39 L82.50,333.10 L83.10,330.66 L83.70,325.26 L84.30,322.21 L84.90,327.62 L85.50,326.71 L86.10,329.99 L86.70,323.19 L87.30,323.39 L87.90,327.57 L88.50,325.79 L89.10,328.06 L89.70,327.95 L90.30,320.32 L90.90,314.59 L91.50,321.89 L92.10,317.83 L92.70,319.82 L93.30,308.33 L93.90,315.94 L94.50,315.25 L95.10,312.12 L95.70,313.54 L96.30,311.13 L96.90,310.10 L97.50,311.50 L98.10,310.27 L98.70,308.80 L99.30,305.44 L99.90,303.43 L100.50,302.16 L101.10,299.15 L101.70,294.49 L102.30,295.81 L102.90,295.58 L103.50,290.60 L104.10,286.87 L104.70,288.80 L105.30,283.02 L105.90,281.36 L106.50,285.31 L107.10,282.94 L107.70,288.31 L108.30,286.89 L108.90,288.97 L109.50,292.15 L110.10,292.54 L110.70,289.86 L111.30,284.76 L111.90,290.05 L112.50,289.51 L113.10,296.06 L113.70,296.01 L114.30,291.44 L114.90,288.96 L115.50,286.38 L116.10,284.67 L116.70,279.99 L117.30,281.27 L117.90,276.20 L118.50,270.49 L119.10,269.75 L119.70,270.73 L120.30,264.84 L120.90,259.48 L121.50,266.39 L122.10,263.53 L122.70,264.02 L123.30,251.55 L123.90,247.80 L124.50,250.10 L125.10,243.71 L125.70,250.03 L126.30,249.62 L126.90,243.80 L127.50,244.69 L128.10,244.12 L128.70,239.38 L129.30,246.24 L129.90,242.08 L130.50,250.13 L131.10,252.06 L131.70,255.83 L132.30,258.38 L132.90,263.42 L133.50,264.78 L134.10,274.25 L134.70,277.82 L135.30,282.38 L135.90,285.36 L136.50,285.02 L137.10,285.42 L137.70,289.28 L138.30,284.57 L138.90,282.36 L139.50,276.04 L140.10,278.12 L140.70,270.07 L141.30,273.92 L141.90,267.84 L142.50,269.92 L143.10,272.23 L143.70,269.84 L144.30,267.52 L144.90,267.96 L145.50,268.40 L146.10,269.53 L146.70,274.25 L147.30,275.45 L147.90,276.55 L148.50,280.30 L149.10,275.23 L149.70,281.83 L150.30,284.57 L150.90,285.93 L151.50,292.52 L152.10,292.45 L152.70,294.15 L153.30,302.07 L153.90,300.97 L154.50,304.84 L155.10,304.21 L155.70,312.46 L156.30,312.35 L156.90,318.01 L157.50,322.05 L158.10,320.21 L158.70,319.67 L159.30,320.67 L159.90,328.96 L160.50,325.44 L161.10,329.63 L161.70,329.65 L162.30,318.71 L162.90,332.01 L163.50,333.40 L164.10,334.88 L164.70,335.08 L165.30,336.63 L165.90,332.15 L166.50,337.40 L167.10,333.36 L167.70,335.40 L168.30,340.22 L168.90,335.10 L169.50,330.62 L170.10,335.12 L170.70,328.71 L171.30,333.96 L171.90,337.91 L172.50,329.40 L173.10,332.36 L173.70,329.78 L174.30,333.22 L174.90,333.63 L175.50,332.99 L176.10,331.33 L176.70,325.70 L177.30,328.98 L177.90,330.43 L178.50,334.56 L179.10,324.88 L179.70,335.25 L180.30,328.88 L180.90,325.62 L181.50,336.13 L182.10,332.29 L182.70,328.14 L183.30,332.42 L183.90,333.75 L184.50,327.07 L185.10,336.47 L185.70,329.44 L186.30,335.29 L186.90,330.82 L187.50,327.57 L188.10,331.10 L188.70,331.57 L189.30,333.93 L189.90,328.07 L190.50,330.52" fill="none" stroke="#2a2a2a" stroke-width="0.95" stroke-linejoin="round" />
<line x1="33.6" y1="319.0" x2="191.3" y2="340.05295" stroke="#b04ef0" stroke-width="1.3"/>
<rect x="33.6" y="195.4" width="157.70000000000002" height="158.9" fill="none" stroke="#555" stroke-width="1.3"/>
<line x1="36.974999999999994" y1="354.3" x2="36.974999999999994" y2="355.8" stroke="#555" stroke-width="1"/>
<line x1="54.55" y1="354.3" x2="54.55" y2="356.8" stroke="#555" stroke-width="1"/>
<line x1="72.125" y1="354.3" x2="72.125" y2="355.8" stroke="#555" stroke-width="1"/>
<line x1="89.7" y1="354.3" x2="89.7" y2="356.8" stroke="#555" stroke-width="1"/>
<line x1="107.275" y1="354.3" x2="107.275" y2="355.8" stroke="#555" stroke-width="1"/>
<line x1="124.85" y1="354.3" x2="124.85" y2="356.8" stroke="#555" stroke-width="1"/>
<line x1="142.425" y1="354.3" x2="142.425" y2="355.8" stroke="#555" stroke-width="1"/>
<line x1="160.0" y1="354.3" x2="160.0" y2="356.8" stroke="#555" stroke-width="1"/>
<line x1="177.575" y1="354.3" x2="177.575" y2="355.8" stroke="#555" stroke-width="1"/>
<text transform="translate(54.55,366.2) scale(0.92,1)" font-size="8.3" fill="#2a2a2a" text-anchor="middle"  stroke="#2a2a2a" stroke-width="0.15">85</text>
<text transform="translate(89.7,366.2) scale(0.92,1)" font-size="8.3" fill="#2a2a2a" text-anchor="middle"  stroke="#2a2a2a" stroke-width="0.15">80</text>
<text transform="translate(124.85,366.2) scale(0.92,1)" font-size="8.3" fill="#2a2a2a" text-anchor="middle"  stroke="#2a2a2a" stroke-width="0.15">75</text>
<text transform="translate(160.0,366.2) scale(0.92,1)" font-size="8.3" fill="#2a2a2a" text-anchor="middle"  stroke="#2a2a2a" stroke-width="0.15">70</text>
<text x="112.4" y="379" font-size="10.7" fill="#222" text-anchor="middle"  stroke="#222" stroke-width="0.15">BE / eV</text>
<text transform="translate(25.2,266.7) rotate(-90)" x="0" y="0" font-size="11.1" fill="#333" text-anchor="middle" stroke="#333" stroke-width="0.15">Intensity (arb. units)</text>
<text transform="translate(1.9,186.2) scale(0.9,1)" font-size="15.6" fill="#111" font-weight="bold">(c)</text>
<text x="163.5" y="208.1" font-size="10.8" fill="#222" stroke="#222" stroke-width="0.15">Pt<tspan font-size="6.3" font-style="italic" dy="4.0" fill="#222">4f</tspan></text>
<text x="91.1" y="297.1" font-size="8.5" fill="#a040f0" text-anchor="middle" >c</text>
<text x="114.5" y="258.6" font-size="9" fill="#4060f8" text-anchor="middle" >b</text>
<text x="141.9" y="248.3" font-size="8.8" fill="#ff3030" text-anchor="middle" >a</text>
<line x1="113.60" y1="262.30" x2="107.92" y2="283.81" stroke="#4a66f0" stroke-width="0.7"/>
<path d="M107.10,286.90 L106.37,283.40 L109.46,284.21 Z" fill="#4a66f0"/>
<line x1="113.60" y1="262.30" x2="125.78" y2="277.32" stroke="#4a66f0" stroke-width="0.7"/>
<path d="M127.80,279.80 L124.54,278.32 L127.03,276.31 Z" fill="#4a66f0"/>
<line x1="141.50" y1="255.20" x2="128.93" y2="278.29" stroke="#ff4040" stroke-width="0.7"/>
<path d="M127.40,281.10 L127.52,277.52 L130.34,279.05 Z" fill="#ff4040"/>
<line x1="141.50" y1="255.20" x2="144.27" y2="269.06" stroke="#ff4040" stroke-width="0.7"/>
<path d="M144.90,272.20 L142.70,269.38 L145.84,268.75 Z" fill="#ff4040"/>
<line x1="92.30" y1="301.80" x2="94.72" y2="315.05" stroke="#a848f0" stroke-width="0.7"/>
<path d="M95.30,318.20 L93.15,315.34 L96.30,314.76 Z" fill="#a848f0"/>
<line x1="92.30" y1="301.80" x2="113.29" y2="316.74" stroke="#a848f0" stroke-width="0.7"/>
<path d="M115.90,318.60 L112.37,318.05 L114.22,315.44 Z" fill="#a848f0"/>
<path d="M218.70,318.32 L219.40,315.94 L220.10,313.22 L220.80,310.31 L221.50,307.21 L222.20,303.89 L222.90,299.99 L223.60,295.03 L224.30,288.39 L225.00,281.84 L225.70,275.38 L226.40,270.08 L227.10,266.17 L227.80,262.82 L228.50,259.22 L229.20,256.07 L229.90,253.91 L230.60,250.90 L231.30,248.65 L232.00,245.90 L232.70,243.05 L233.40,240.37 L234.10,239.11 L234.80,237.75 L235.50,236.25 L236.20,234.03 L236.90,233.27 L237.60,232.18 L238.30,231.02 L239.00,229.80 L239.70,228.83 L240.40,229.10 L241.10,228.59 L241.80,227.74 L242.50,227.79 L243.20,226.73 L243.90,226.48 L244.60,225.51 L245.30,225.23 L246.00,225.09 L246.70,226.04 L247.40,226.67 L248.10,227.87 L248.80,229.64 L249.50,231.08 L250.20,231.97 L250.90,232.70 L251.60,233.56 L252.30,234.15 L253.00,235.67 L253.70,236.65 L254.40,237.60 L255.10,238.47 L255.80,239.22 L256.50,240.17 L257.20,240.48 L257.90,241.95 L258.60,242.51 L259.30,242.93 L260.00,243.48 L260.70,244.38 L261.40,245.43 L262.10,246.16 L262.80,247.07 L263.50,248.11 L264.20,248.49 L264.90,249.22 L265.60,249.89 L266.30,250.17 L267.00,250.94 L267.70,251.83 L268.40,253.07 L269.10,253.42 L269.80,255.19 L270.50,255.50 L271.20,256.20 L271.90,257.18 L272.60,258.04 L273.30,259.31 L274.00,260.40 L274.70,261.92 L275.40,262.48 L276.10,263.80 L276.80,264.85 L277.50,265.85 L278.20,266.24 L278.90,267.88 L279.60,269.13 L280.30,270.03 L281.00,271.76 L281.70,273.38 L282.40,274.70 L283.10,275.91 L283.80,276.99 L284.50,278.83 L285.20,280.04 L285.90,281.81 L286.60,282.99 L287.30,284.37 L288.00,286.13 L288.70,287.29 L289.40,288.14 L290.10,290.22 L290.80,291.59 L291.50,292.98 L292.20,293.72 L292.90,295.22 L293.60,296.79 L294.30,298.00 L295.00,298.92 L295.70,300.40 L296.40,301.29 L297.10,301.97 L297.80,303.30 L298.50,304.33 L299.20,305.17 L299.90,306.74 L300.60,307.34 L301.30,308.85 L302.00,309.43 L302.70,310.39 L303.40,311.38 L304.10,312.56 L304.80,313.28 L305.50,314.28 L306.20,315.29 L306.90,315.95 L307.60,316.79 L308.30,317.57 L309.00,318.30 L309.70,320.03 L310.40,320.51 L311.10,321.59 L311.80,322.13 L312.50,323.57 L313.20,324.29 L313.90,325.23 L314.60,325.75 L315.30,326.72 L316.00,326.98 L316.70,327.28 L317.40,328.49 L318.10,329.11 L318.80,329.51 L319.50,329.85 L320.20,330.24 L320.90,330.57 L321.60,331.19 L322.30,331.86 L323.00,332.64 L323.70,332.91 L324.40,332.94 L325.10,333.28 L325.80,333.86 L326.50,334.32 L327.20,335.29 L327.90,336.03 L328.60,336.48 L329.30,336.49 L330.00,336.66 L330.70,337.60 L331.40,337.17 L332.10,337.98 L332.80,337.90 L333.50,338.78 L334.20,339.27 L334.90,340.15 L335.60,340.10 L336.30,340.55 L337.00,340.94 L337.70,341.19 L338.40,341.66 L339.10,341.58 L339.80,342.07 L340.50,342.71 L341.20,343.22 L341.90,343.82 L342.60,344.21 L343.30,344.36 L344.00,344.50 L344.70,344.61 L345.40,345.20 L346.10,345.08 L346.80,345.75 L347.50,345.78 L348.20,346.19 L348.90,346.85 L349.60,346.50 L350.30,347.06 L351.00,347.19 L351.70,347.27 L352.40,347.60 L353.10,348.41 L353.80,348.63 L354.50,348.29 L355.20,348.22 L355.90,348.63 L356.60,348.27 L357.30,348.68 L358.00,349.07 L358.70,349.53 L359.40,349.30 L360.10,349.36 L360.80,349.72 L361.50,349.27 L362.20,349.71 L362.90,350.14 L363.60,350.15 L364.30,350.93 L365.00,351.20 L365.70,350.39 L366.40,350.56 L367.10,350.65 L367.80,350.58 L368.50,350.45 L369.20,351.27 L369.90,351.19 L370.60,351.22 L371.30,351.84 L372.00,351.69 L372.70,351.18 L373.40,351.20 L374.10,351.06 L374.80,351.51 L375.50,351.53 L376.20,351.95 L376.90,351.77 L377.60,352.08 L378.30,352.56" fill="none" stroke="#111" stroke-width="1.3" stroke-linejoin="round" />
<path d="M218.70,326.24 L219.40,321.05 L220.10,318.49 L220.80,316.66 L221.50,313.84 L222.20,311.71 L222.90,309.39 L223.60,307.07 L224.30,304.59 L225.00,301.74 L225.70,299.64 L226.40,296.98 L227.10,295.41 L227.80,293.42 L228.50,292.18 L229.20,291.02 L229.90,289.85 L230.60,288.84 L231.30,288.05 L232.00,287.35 L232.70,287.62 L233.40,287.22 L234.10,287.32 L234.80,286.80 L235.50,286.53 L236.20,286.09 L236.90,285.98 L237.60,285.49 L238.30,286.01 L239.00,286.07 L239.70,286.12 L240.40,285.97 L241.10,284.98 L241.80,284.02 L242.50,284.43 L243.20,284.17 L243.90,283.53 L244.60,283.22 L245.30,283.59 L246.00,284.09 L246.70,284.12 L247.40,284.32 L248.10,285.59 L248.80,286.94 L249.50,287.50 L250.20,288.93 L250.90,289.43 L251.60,290.40 L252.30,291.36 L253.00,292.05 L253.70,292.33 L254.40,293.49 L255.10,293.82 L255.80,295.04 L256.50,295.14 L257.20,296.07 L257.90,296.82 L258.60,297.44 L259.30,298.34 L260.00,299.05 L260.70,300.12 L261.40,300.40 L262.10,301.01 L262.80,300.84 L263.50,301.72 L264.20,302.20 L264.90,302.76 L265.60,303.21 L266.30,302.94 L267.00,303.04 L267.70,303.54 L268.40,304.08 L269.10,305.21 L269.80,304.95 L270.50,305.91 L271.20,306.93 L271.90,307.36 L272.60,307.59 L273.30,308.32 L274.00,309.45 L274.70,310.36 L275.40,310.88 L276.10,311.70 L276.80,312.77 L277.50,313.09 L278.20,314.38 L278.90,314.40 L279.60,315.76 L280.30,315.67 L281.00,316.95 L281.70,317.40 L282.40,317.55 L283.10,318.55 L283.80,319.44 L284.50,320.19 L285.20,320.74 L285.90,321.28 L286.60,321.86 L287.30,322.60 L288.00,323.60 L288.70,324.12 L289.40,324.77 L290.10,325.24 L290.80,326.16 L291.50,327.14 L292.20,327.78 L292.90,327.35 L293.60,327.72 L294.30,328.15 L295.00,328.87 L295.70,330.15 L296.40,330.21 L297.10,330.74 L297.80,331.18 L298.50,331.17 L299.20,331.74 L299.90,332.40 L300.60,332.92 L301.30,333.59 L302.00,334.10 L302.70,334.68 L303.40,334.78 L304.10,335.94 L304.80,336.48 L305.50,336.62 L306.20,337.06 L306.90,337.41 L307.60,337.54 L308.30,338.67 L309.00,339.00 L309.70,339.86 L310.40,340.55 L311.10,340.21 L311.80,340.47 L312.50,341.32 L313.20,341.53 L313.90,341.81 L314.60,342.22 L315.30,342.81 L316.00,342.66 L316.70,343.23 L317.40,343.89 L318.10,343.76 L318.80,343.95 L319.50,344.42 L320.20,344.88 L320.90,345.19 L321.60,345.29 L322.30,345.81 L323.00,345.44 L323.70,346.15 L324.40,346.19 L325.10,346.07 L325.80,345.84 L326.50,346.79 L327.20,346.82 L327.90,347.05 L328.60,347.55 L329.30,347.23 L330.00,347.61 L330.70,347.87 L331.40,348.29 L332.10,348.14 L332.80,348.66 L333.50,348.21 L334.20,348.32 L334.90,348.28 L335.60,348.28 L336.30,349.17 L337.00,349.11 L337.70,349.09 L338.40,349.24 L339.10,349.36 L339.80,348.98 L340.50,349.26 L341.20,349.68 L341.90,349.39 L342.60,349.68 L343.30,349.78 L344.00,349.69 L344.70,349.62 L345.40,349.89 L346.10,350.28 L346.80,350.55 L347.50,350.06 L348.20,350.49 L348.90,350.80 L349.60,350.26 L350.30,350.26 L351.00,350.89 L351.70,351.18 L352.40,351.28 L353.10,351.68 L353.80,351.57 L354.50,351.79 L355.20,351.49 L355.90,351.46 L356.60,351.22 L357.30,351.50 L358.00,351.48 L358.70,351.46 L359.40,351.87 L360.10,351.96 L360.80,351.79 L361.50,351.98 L362.20,352.12 L362.90,352.24 L363.60,351.99 L364.30,352.36 L365.00,352.18 L365.70,352.40 L366.40,352.26 L367.10,353.04 L367.80,352.26 L368.50,352.82 L369.20,352.42 L369.90,353.14 L370.60,352.53 L371.30,352.98 L372.00,352.89 L372.70,353.25 L373.40,352.72 L374.10,352.90 L374.80,353.24 L375.50,353.50 L376.20,353.18 L376.90,352.74 L377.60,353.12 L378.30,353.17" fill="none" stroke="#a020f0" stroke-width="1.3" stroke-linejoin="round" />
<path d="M218.70,326.18 L219.40,323.81 L220.10,321.18 L220.80,318.43 L221.50,315.04 L222.20,311.32 L222.90,308.47 L223.60,305.31 L224.30,302.41 L225.00,299.76 L225.70,297.12 L226.40,294.79 L227.10,292.22 L227.80,289.69 L228.50,287.23 L229.20,285.15 L229.90,283.76 L230.60,282.74 L231.30,281.45 L232.00,280.56 L232.70,280.09 L233.40,279.07 L234.10,278.86 L234.80,278.86 L235.50,278.83 L236.20,278.39 L236.90,278.33 L237.60,278.18 L238.30,278.19 L239.00,277.54 L239.70,277.68 L240.40,276.95 L241.10,276.17 L241.80,276.22 L242.50,275.86 L243.20,275.99 L243.90,275.76 L244.60,275.04 L245.30,275.41 L246.00,275.17 L246.70,275.74 L247.40,276.41 L248.10,277.46 L248.80,278.79 L249.50,279.94 L250.20,280.94 L250.90,281.97 L251.60,282.84 L252.30,283.42 L253.00,284.21 L253.70,285.15 L254.40,286.33 L255.10,287.09 L255.80,288.65 L256.50,288.81 L257.20,289.35 L257.90,290.57 L258.60,291.62 L259.30,292.16 L260.00,292.87 L260.70,293.69 L261.40,293.94 L262.10,294.06 L262.80,294.75 L263.50,295.78 L264.20,295.81 L264.90,296.62 L265.60,297.31 L266.30,297.73 L267.00,298.53 L267.70,299.09 L268.40,300.11 L269.10,300.16 L269.80,299.49 L270.50,299.94 L271.20,300.41 L271.90,301.47 L272.60,301.78 L273.30,302.44 L274.00,303.29 L274.70,303.57 L275.40,304.20 L276.10,304.40 L276.80,305.11 L277.50,305.92 L278.20,306.89 L278.90,307.85 L279.60,308.26 L280.30,308.94 L281.00,309.59 L281.70,310.53 L282.40,311.26 L283.10,311.83 L283.80,312.16 L284.50,313.35 L285.20,314.11 L285.90,315.13 L286.60,315.65 L287.30,316.93 L288.00,317.23 L288.70,318.43 L289.40,318.93 L290.10,319.46 L290.80,319.99 L291.50,320.95 L292.20,322.20 L292.90,322.91 L293.60,323.59 L294.30,323.43 L295.00,324.74 L295.70,325.59 L296.40,326.03 L297.10,326.63 L297.80,327.48 L298.50,328.71 L299.20,328.78 L299.90,329.45 L300.60,330.63 L301.30,330.94 L302.00,331.52 L302.70,332.27 L303.40,332.56 L304.10,333.49 L304.80,333.79 L305.50,334.87 L306.20,335.33 L306.90,336.49 L307.60,336.63 L308.30,337.30 L309.00,337.07 L309.70,337.62 L310.40,338.18 L311.10,339.00 L311.80,338.51 L312.50,339.33 L313.20,339.66 L313.90,340.21 L314.60,340.32 L315.30,340.35 L316.00,340.36 L316.70,340.33 L317.40,340.89 L318.10,341.13 L318.80,341.99 L319.50,341.70 L320.20,342.07 L320.90,341.84 L321.60,342.29 L322.30,342.80 L323.00,343.30 L323.70,343.81 L324.40,343.73 L325.10,343.59 L325.80,344.17 L326.50,344.54 L327.20,344.82 L327.90,344.75 L328.60,345.41 L329.30,345.49 L330.00,345.85 L330.70,346.28 L331.40,346.38 L332.10,346.48 L332.80,347.18 L333.50,347.00 L334.20,346.94 L334.90,347.17 L335.60,347.75 L336.30,347.67 L337.00,347.88 L337.70,348.25 L338.40,347.99 L339.10,347.69 L339.80,348.26 L340.50,348.52 L341.20,348.45 L341.90,348.94 L342.60,349.09 L343.30,348.77 L344.00,349.18 L344.70,349.18 L345.40,348.89 L346.10,349.41 L346.80,349.50 L347.50,349.40 L348.20,349.79 L348.90,349.97 L349.60,349.79 L350.30,350.07 L351.00,350.39 L351.70,350.07 L352.40,350.34 L353.10,350.37 L353.80,351.08 L354.50,350.19 L355.20,350.69 L355.90,350.62 L356.60,350.71 L357.30,351.35 L358.00,351.06 L358.70,351.66 L359.40,351.14 L360.10,351.26 L360.80,351.11 L361.50,351.06 L362.20,351.30 L362.90,351.33 L363.60,351.53 L364.30,350.99 L365.00,352.03 L365.70,351.78 L366.40,352.29 L367.10,351.72 L367.80,351.97 L368.50,352.89 L369.20,352.09 L369.90,351.72 L370.60,351.93 L371.30,352.32 L372.00,352.55 L372.70,352.83 L373.40,352.53 L374.10,352.12 L374.80,352.37 L375.50,352.96 L376.20,352.97 L376.90,352.34 L377.60,352.74 L378.30,353.31" fill="none" stroke="#1f8a80" stroke-width="1.3" stroke-linejoin="round" />
<path d="M218.70,321.01 L219.40,316.04 L220.10,310.06 L220.80,304.42 L221.50,299.05 L222.20,294.32 L222.90,290.23 L223.60,286.79 L224.30,283.57 L225.00,280.23 L225.70,276.94 L226.40,274.97 L227.10,271.86 L227.80,269.57 L228.50,267.30 L229.20,265.49 L229.90,264.04 L230.60,261.73 L231.30,260.33 L232.00,259.44 L232.70,258.29 L233.40,257.85 L234.10,257.43 L234.80,256.56 L235.50,256.00 L236.20,255.90 L236.90,255.56 L237.60,255.34 L238.30,255.61 L239.00,255.12 L239.70,254.66 L240.40,254.00 L241.10,254.09 L241.80,253.47 L242.50,253.79 L243.20,253.66 L243.90,252.63 L244.60,252.51 L245.30,252.75 L246.00,252.86 L246.70,252.86 L247.40,253.30 L248.10,254.76 L248.80,255.81 L249.50,256.66 L250.20,257.94 L250.90,259.32 L251.60,260.62 L252.30,261.24 L253.00,262.02 L253.70,262.80 L254.40,263.80 L255.10,265.07 L255.80,266.33 L256.50,267.37 L257.20,267.93 L257.90,269.05 L258.60,269.99 L259.30,270.78 L260.00,270.80 L260.70,272.04 L261.40,272.91 L262.10,274.17 L262.80,274.64 L263.50,275.52 L264.20,276.25 L264.90,277.28 L265.60,277.96 L266.30,278.76 L267.00,279.64 L267.70,280.17 L268.40,280.49 L269.10,280.87 L269.80,281.70 L270.50,283.14 L271.20,283.59 L271.90,284.49 L272.60,285.22 L273.30,286.01 L274.00,286.13 L274.70,288.12 L275.40,288.54 L276.10,289.41 L276.80,290.93 L277.50,290.99 L278.20,292.32 L278.90,293.21 L279.60,293.77 L280.30,295.28 L281.00,296.01 L281.70,297.07 L282.40,297.98 L283.10,299.24 L283.80,300.77 L284.50,300.97 L285.20,302.34 L285.90,303.05 L286.60,304.08 L287.30,304.68 L288.00,305.79 L288.70,307.02 L289.40,308.43 L290.10,309.38 L290.80,310.41 L291.50,311.41 L292.20,311.75 L292.90,313.25 L293.60,313.80 L294.30,314.83 L295.00,315.47 L295.70,316.36 L296.40,317.29 L297.10,317.32 L297.80,319.08 L298.50,319.63 L299.20,320.60 L299.90,321.19 L300.60,321.86 L301.30,322.20 L302.00,323.09 L302.70,323.37 L303.40,324.55 L304.10,325.90 L304.80,325.84 L305.50,326.67 L306.20,327.50 L306.90,328.67 L307.60,329.53 L308.30,329.94 L309.00,330.54 L309.70,331.11 L310.40,331.64 L311.10,332.23 L311.80,332.83 L312.50,333.49 L313.20,334.13 L313.90,334.47 L314.60,335.24 L315.30,335.58 L316.00,336.10 L316.70,335.98 L317.40,336.37 L318.10,336.96 L318.80,337.44 L319.50,337.71 L320.20,338.53 L320.90,338.57 L321.60,339.34 L322.30,339.88 L323.00,340.16 L323.70,340.49 L324.40,340.91 L325.10,341.13 L325.80,341.19 L326.50,341.63 L327.20,341.95 L327.90,342.34 L328.60,342.55 L329.30,342.72 L330.00,343.28 L330.70,343.98 L331.40,343.71 L332.10,343.50 L332.80,343.94 L333.50,344.03 L334.20,344.24 L334.90,344.35 L335.60,344.83 L336.30,345.27 L337.00,346.00 L337.70,345.37 L338.40,345.22 L339.10,345.62 L339.80,345.85 L340.50,346.51 L341.20,346.72 L341.90,346.33 L342.60,345.91 L343.30,346.61 L344.00,346.63 L344.70,347.24 L345.40,347.09 L346.10,347.13 L346.80,346.93 L347.50,347.28 L348.20,347.81 L348.90,347.51 L349.60,347.78 L350.30,347.73 L351.00,348.22 L351.70,348.18 L352.40,348.42 L353.10,348.51 L353.80,348.28 L354.50,348.22 L355.20,348.97 L355.90,348.81 L356.60,348.66 L357.30,348.80 L358.00,349.57 L358.70,349.44 L359.40,349.76 L360.10,348.99 L360.80,350.12 L361.50,349.92 L362.20,350.29 L362.90,350.02 L363.60,350.09 L364.30,350.44 L365.00,350.92 L365.70,350.65 L366.40,350.42 L367.10,350.90 L367.80,351.43 L368.50,350.69 L369.20,350.69 L369.90,351.19 L370.60,351.11 L371.30,350.67 L372.00,351.23 L372.70,351.56 L373.40,351.85 L374.10,352.22 L374.80,351.65 L375.50,351.77 L376.20,352.02 L376.90,352.31 L377.60,352.15 L378.30,352.41" fill="none" stroke="#2a50f0" stroke-width="1.3" stroke-linejoin="round" />
<path d="M218.70,317.79 L219.40,315.50 L220.10,312.87 L220.80,309.87 L221.50,307.00 L222.20,303.87 L222.90,300.05 L223.60,294.92 L224.30,288.58 L225.00,281.58 L225.70,275.37 L226.40,269.95 L227.10,265.22 L227.80,261.62 L228.50,258.04 L229.20,254.98 L229.90,253.11 L230.60,251.32 L231.30,249.89 L232.00,249.01 L232.70,248.56 L233.40,248.10 L234.10,247.80 L234.80,247.34 L235.50,246.53 L236.20,246.11 L236.90,246.62 L237.60,246.41 L238.30,245.50 L239.00,245.77 L239.70,245.67 L240.40,245.55 L241.10,245.08 L241.80,244.77 L242.50,244.10 L243.20,243.43 L243.90,243.39 L244.60,243.29 L245.30,242.97 L246.00,242.46 L246.70,242.64 L247.40,242.83 L248.10,243.68 L248.80,244.14 L249.50,245.42 L250.20,246.94 L250.90,248.49 L251.60,250.06 L252.30,251.27 L253.00,252.04 L253.70,253.34 L254.40,255.38 L255.10,256.55 L255.80,257.69 L256.50,259.10 L257.20,260.42 L257.90,261.94 L258.60,262.73 L259.30,263.43 L260.00,264.26 L260.70,265.71 L261.40,266.52 L262.10,267.45 L262.80,268.42 L263.50,268.91 L264.20,270.39 L264.90,270.90 L265.60,271.66 L266.30,272.44 L267.00,273.37 L267.70,274.08 L268.40,274.87 L269.10,275.79 L269.80,276.15 L270.50,276.98 L271.20,277.36 L271.90,278.37 L272.60,279.84 L273.30,280.56 L274.00,281.49 L274.70,282.35 L275.40,283.78 L276.10,284.35 L276.80,285.21 L277.50,286.58 L278.20,286.96 L278.90,288.10 L279.60,289.98 L280.30,290.56 L281.00,291.56 L281.70,291.94 L282.40,293.32 L283.10,294.27 L283.80,295.42 L284.50,296.55 L285.20,297.95 L285.90,299.08 L286.60,300.60 L287.30,300.97 L288.00,302.35 L288.70,303.96 L289.40,305.15 L290.10,306.59 L290.80,307.28 L291.50,308.66 L292.20,309.67 L292.90,310.20 L293.60,310.91 L294.30,312.82 L295.00,313.84 L295.70,314.53 L296.40,315.14 L297.10,315.67 L297.80,316.86 L298.50,317.96 L299.20,319.30 L299.90,319.75 L300.60,320.52 L301.30,321.31 L302.00,322.40 L302.70,323.40 L303.40,324.30 L304.10,324.53 L304.80,325.29 L305.50,325.50 L306.20,326.09 L306.90,326.79 L307.60,327.76 L308.30,327.61 L309.00,328.60 L309.70,329.81 L310.40,330.30 L311.10,330.92 L311.80,330.91 L312.50,331.52 L313.20,331.70 L313.90,332.80 L314.60,332.91 L315.30,333.26 L316.00,333.53 L316.70,334.29 L317.40,335.18 L318.10,335.33 L318.80,335.66 L319.50,335.96 L320.20,336.80 L320.90,337.07 L321.60,337.54 L322.30,337.85 L323.00,338.24 L323.70,338.79 L324.40,339.21 L325.10,339.01 L325.80,339.60 L326.50,339.99 L327.20,340.54 L327.90,341.16 L328.60,341.05 L329.30,341.26 L330.00,341.35 L330.70,341.83 L331.40,342.70 L332.10,342.66 L332.80,343.41 L333.50,343.49 L334.20,343.66 L334.90,343.99 L335.60,344.12 L336.30,344.59 L337.00,344.83 L337.70,344.57 L338.40,344.98 L339.10,345.65 L339.80,345.81 L340.50,345.50 L341.20,346.47 L341.90,347.03 L342.60,346.62 L343.30,346.98 L344.00,347.45 L344.70,347.63 L345.40,347.86 L346.10,347.47 L346.80,348.16 L347.50,348.10 L348.20,348.14 L348.90,348.54 L349.60,348.90 L350.30,349.08 L351.00,348.78 L351.70,349.08 L352.40,348.74 L353.10,349.37 L353.80,349.17 L354.50,349.20 L355.20,349.72 L355.90,349.80 L356.60,349.61 L357.30,350.02 L358.00,350.53 L358.70,349.85 L359.40,350.16 L360.10,350.30 L360.80,350.45 L361.50,350.53 L362.20,350.86 L362.90,350.95 L363.60,350.86 L364.30,351.13 L365.00,350.88 L365.70,351.48 L366.40,351.23 L367.10,351.14 L367.80,351.39 L368.50,351.09 L369.20,351.01 L369.90,351.16 L370.60,351.86 L371.30,351.91 L372.00,351.62 L372.70,351.74 L373.40,351.86 L374.10,351.76 L374.80,351.86 L375.50,351.80 L376.20,351.72 L376.90,351.92 L377.60,352.61 L378.30,352.69" fill="none" stroke="#ff1818" stroke-width="1.3" stroke-linejoin="round" />
<rect x="218.5" y="194.6" width="160.10000000000002" height="160.4" fill="none" stroke="#444" stroke-width="1.2"/>
<line x1="239.5" y1="355.0" x2="239.5" y2="357.8" stroke="#444" stroke-width="1"/>
<text transform="translate(239.5,367.1) scale(0.92,1)" font-size="8.5" fill="#2a2a2a" text-anchor="middle"  stroke="#2a2a2a" stroke-width="0.15">450</text>
<line x1="274.46500000000003" y1="355.0" x2="274.46500000000003" y2="357.8" stroke="#444" stroke-width="1"/>
<text transform="translate(274.47,367.1) scale(0.92,1)" font-size="8.5" fill="#2a2a2a" text-anchor="middle"  stroke="#2a2a2a" stroke-width="0.15">500</text>
<line x1="309.43" y1="355.0" x2="309.43" y2="357.8" stroke="#444" stroke-width="1"/>
<text transform="translate(309.43,367.1) scale(0.92,1)" font-size="8.5" fill="#2a2a2a" text-anchor="middle"  stroke="#2a2a2a" stroke-width="0.15">550</text>
<line x1="344.395" y1="355.0" x2="344.395" y2="357.8" stroke="#444" stroke-width="1"/>
<text transform="translate(344.39,367.1) scale(0.92,1)" font-size="8.5" fill="#2a2a2a" text-anchor="middle"  stroke="#2a2a2a" stroke-width="0.15">600</text>
<text x="298" y="378" font-size="10.9" fill="#222" text-anchor="middle"  stroke="#222" stroke-width="0.15">λ / nm</text>
<text transform="translate(211.3,266) rotate(-90)" x="0" y="0" font-size="11.1" fill="#333" text-anchor="middle" stroke="#333" stroke-width="0.15">Intensity (arb. units)</text>
<text transform="translate(194.7,185.8) scale(0.97,1)" font-size="15.3" fill="#111" font-weight="bold">(d)</text>
<text x="304.1" y="216.8" font-size="9.1" fill="#222" stroke="#222" stroke-width="0.15">g-C<tspan font-size="6" dy="2.4">3</tspan><tspan dy="-2.4">N</tspan><tspan font-size="6" dy="2.4">4</tspan></text>
<text x="288.4" y="276.2" font-size="9.3" fill="#a03cf0">5 wt. % Pt-g-C<tspan font-size="6" dy="2.4">3</tspan><tspan dy="-2.4">N</tspan><tspan font-size="6" dy="2.4">4</tspan></text>
<line x1="315.3" y1="222" x2="315.3" y2="262" stroke="#333" stroke-width="0.8"/>
<path d="M313.5,261.2 L315.3,266.2 L317.1,261.2 Z" fill="#222"/>
</svg></body></html>
